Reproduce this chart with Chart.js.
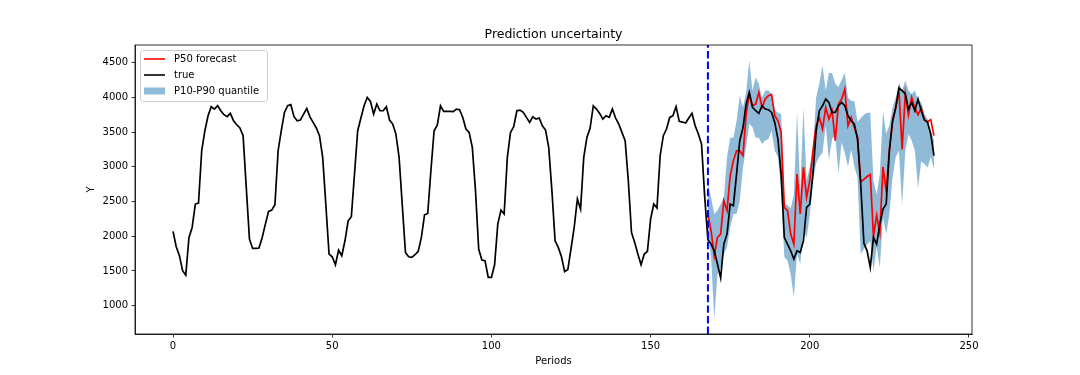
<!DOCTYPE html>
<html>
<head>
<meta charset="utf-8">
<script src="https://cdn.jsdelivr.net/npm/chart.js@4/dist/chart.umd.min.js"></script>
<style>
  body { margin: 0; background: #fff; }
  #wrap { width: 1080px; height: 375px; }
</style>
</head>
<body>
<div id="wrap"><canvas id="chart"></canvas></div>
<script>
// observed series, period 0..239
const trueValues = [
  2070, 1850, 1720, 1503, 1440, 1983, 2127, 2464, 2478, 3232,
  3520, 3736, 3866, 3832, 3880, 3808, 3751, 3722, 3770, 3664,
  3607, 3559, 3448, 2704, 1959, 1825, 1825, 1830, 1983, 2175,
  2358, 2377, 2454, 3232, 3520, 3784, 3880, 3895, 3722, 3664,
  3674, 3760, 3840, 3720, 3640, 3560, 3448, 3136, 2450, 1743,
  1705, 1589, 1801, 1719, 1935, 2223, 2281, 2900, 3520, 3703,
  3880, 4000, 3943, 3760, 3904, 3808, 3808, 3866, 3674, 3616,
  3472, 3136, 2450, 1767, 1705, 1695, 1734, 1782, 1983, 2310,
  2329, 2950, 3520, 3600, 3880, 3799, 3800, 3800, 3794, 3832,
  3823, 3712, 3544, 3496, 3280, 2656, 1815, 1657, 1647, 1407,
  1407, 1589, 2175, 2377, 2320, 3136, 3496, 3578, 3808, 3818,
  3784, 3712, 3640, 3722, 3688, 3703, 3592, 3530, 3280, 2656,
  1935, 1839, 1705, 1490, 1520, 1820, 2127, 2535, 2391, 3136,
  3424, 3559, 3880, 3832, 3770, 3688, 3736, 3712, 3832, 3703,
  3616, 3496, 3376, 2800, 2055, 1911, 1743, 1589, 1743, 1782,
  2247, 2464, 2406, 3160, 3448, 3544, 3712, 3736, 3866, 3655,
  3645, 3631, 3703, 3770, 3592, 3472, 3328, 2560, 1950, 1887,
  1791, 1600, 1400, 1887, 2031, 2464, 2440, 2896, 3376, 3559,
  3904, 4073, 3856, 3808, 3770, 3880, 3832, 3823, 3784, 3640,
  3400, 2896, 1983, 1887, 1791, 1671, 1791, 1767, 1935, 2416,
  2464, 2896, 3520, 3808, 3880, 3976, 3928, 3784, 3784, 3880,
  3928, 3880, 3736, 3664, 3616, 3400, 2750, 1900, 1790, 1551,
  1983, 1887, 2175, 2391, 2464, 3232, 3664, 3856, 4135, 4097,
  4049, 3832, 3928, 3808, 3976, 3808, 3674, 3640, 3472, 3160
];

// forecast, periods 168..239
const forecastStart = 168;
const p50Values = [
  2320, 2079, 1719, 1983, 2031, 2512, 2368, 2872, 3088, 3232,
  3232, 3160, 3760, 4049, 3880, 3904, 4073, 3856, 3976, 4025,
  4039, 3736, 3664, 3500, 2416, 2368, 2031, 1887, 2896, 2320,
  2992, 2560, 2800, 3232, 3592, 3712, 3544, 3856, 3688, 3808,
  3376, 3904, 3976, 4120, 3592, 3712, 3568, 3424, 2780, 2820,
  2860, 2890, 2000, 2300, 2050, 3000, 2650, 3250, 3650, 3850,
  4100, 3250, 4050, 3750, 4000, 3850, 3750, 3850, 3680, 3650,
  3680, 3450
];
const p10Values = [
  2030, 1700, 810, 1450, 1550, 1740, 1840, 2130, 2320, 2320,
  2510, 2990, 3280, 3620, 3570, 3420, 3420, 3330, 3380, 3400,
  3520, 3230, 3140, 2660, 1700, 1650, 1450, 1120, 1750, 1600,
  2100, 1980, 2300, 2800, 3050, 3150, 3200, 3600, 3100, 3400,
  3450, 2900, 3350, 3200, 3000, 3250, 3000, 2850, 1740, 1820,
  1880, 1930, 1500, 1850, 1550, 2270, 2030, 2320, 2850, 3140,
  3230, 2450, 3230, 3470, 3380, 3230, 2700, 3080, 3040, 2990,
  3140, 2970
];
const p90Values = [
  2750, 2560, 2320, 2370, 2460, 2560, 3140, 3420, 3420, 3660,
  4025, 3860, 4070, 4530, 4100, 4290, 4190, 4000, 4100, 4100,
  4050, 3810, 3780, 3760, 2460, 2450, 2400, 2600, 3790, 2650,
  3850, 2800, 3000, 3250, 4000, 4200, 4460, 4100, 4350, 4350,
  4200, 4150, 4250, 4350, 4000, 3950, 3950, 3650, 3700, 3750,
  3780, 3780, 2800, 2600, 2900, 3800, 3480, 3600, 3850, 4000,
  4200, 4100, 4240, 4100, 4050, 4100, 3950, 3930, 3760, 3690,
  3520, 3380
];

const xTicks = [0, 50, 100, 150, 200, 250];
const yTicks = [1000, 1500, 2000, 2500, 3000, 3500, 4000, 4500];

const truePoints = trueValues.map((v, i) => ({ x: i, y: v }));
const fcPoints = arr => arr.map((v, k) => ({ x: forecastStart + k, y: v }));

const bandColor = 'rgba(31, 119, 180, 0.5)';

Chart.defaults.font.family = 'DejaVu Sans';
Chart.defaults.font.size = 10;
Chart.defaults.color = '#000';

// top/right spines like matplotlib
const frame = {
  id: 'frame',
  afterDraw(chart) {
    const { ctx, chartArea: a } = chart;
    ctx.save();
    ctx.strokeStyle = '#000';
    ctx.lineWidth = 0.8;
    ctx.strokeRect(a.left, a.top, a.right - a.left, a.bottom - a.top);
    ctx.restore();
  }
};

// forecast start marker
const startLine = {
  id: 'startLine',
  afterDatasetsDraw(chart) {
    const { ctx, chartArea: a, scales } = chart;
    const x = scales.x.getPixelForValue(forecastStart);
    ctx.save();
    ctx.strokeStyle = '#0000ff';
    ctx.lineWidth = 2;
    ctx.setLineDash([7.4, 3.2]);
    ctx.beginPath();
    ctx.moveTo(x, a.bottom);
    ctx.lineTo(x, a.top);
    ctx.stroke();
    ctx.restore();
  }
};

// legend box in the upper left corner of the axes
const legendBox = {
  id: 'legendBox',
  afterDraw(chart) {
    const { ctx, chartArea: a } = chart;
    const x = a.left + 5, y = a.top + 5, w = 127, h = 51;
    ctx.save();
    ctx.beginPath();
    ctx.roundRect(x + 0.5, y + 0.5, w, h, 3);
    ctx.fillStyle = 'rgba(255,255,255,0.8)';
    ctx.fill();
    ctx.strokeStyle = '#cccccc';
    ctx.lineWidth = 1;
    ctx.stroke();

    const items = [
      { label: 'P50 forecast', kind: 'line', color: 'red' },
      { label: 'true', kind: 'line', color: 'black' },
      { label: 'P10-P90 quantile', kind: 'patch', color: bandColor }
    ];
    ctx.font = '10px "DejaVu Sans"';
    ctx.textBaseline = 'middle';
    items.forEach((it, i) => {
      const ry = y + 9 + i * 16;
      if (it.kind === 'line') {
        ctx.strokeStyle = it.color;
        ctx.lineWidth = 1.6;
        ctx.beginPath();
        ctx.moveTo(x + 4, ry);
        ctx.lineTo(x + 25, ry);
        ctx.stroke();
      } else {
        ctx.fillStyle = it.color;
        ctx.fillRect(x + 4, ry - 3.5, 21, 7);
      }
      ctx.fillStyle = '#000';
      ctx.fillText(it.label, x + 34, ry);
    });
    ctx.restore();
  }
};

new Chart(document.getElementById('chart'), {
  type: 'line',
  data: {
    datasets: [
      {
        label: 'P50 forecast',
        data: fcPoints(p50Values),
        borderColor: 'red',
        borderWidth: 1.7,
        pointRadius: 0,
        fill: false,
        order: 1
      },
      {
        label: 'true',
        data: truePoints,
        borderColor: 'black',
        borderWidth: 1.7,
        pointRadius: 0,
        fill: false,
        order: 0
      },
      {
        label: 'P10-P90 quantile',
        data: fcPoints(p90Values),
        borderWidth: 0,
        borderColor: 'rgba(0,0,0,0)',
        backgroundColor: bandColor,
        pointRadius: 0,
        fill: '+1',
        order: 2
      },
      {
        label: 'P10',
        data: fcPoints(p10Values),
        borderWidth: 0,
        borderColor: 'rgba(0,0,0,0)',
        pointRadius: 0,
        fill: false,
        order: 3
      }
    ]
  },
  options: {
    responsive: true,
    maintainAspectRatio: false,
    animation: false,
    layout: { padding: { top: 0, right: 108, bottom: 0, left: 0 } },
    plugins: {
      legend: { display: false },
      tooltip: { enabled: false },
      title: {
        display: true,
        text: 'Prediction uncertainty',
        fullSize: false,
        font: { size: 12.5, weight: 'normal' },
        padding: { top: 27.5, bottom: 2.5 }
      }
    },
    scales: {
      x: {
        type: 'linear',
        min: -11.95,
        max: 250.95,
        afterBuildTicks: axis => { axis.ticks = xTicks.map(v => ({ value: v })); },
        afterFit: axis => { axis.height = 41; },
        ticks: { padding: 3, maxRotation: 0, callback: v => String(v) },
        grid: { display: true, drawOnChartArea: false, drawTicks: true, tickLength: 3.5, color: '#000', lineWidth: 0.8 },
        border: { display: true, color: '#000', width: 0.8 },
        title: { display: true, text: 'Periods', padding: { top: 0, bottom: 8 } }
      },
      y: {
        type: 'linear',
        min: 592,
        max: 4755,
        afterBuildTicks: axis => { axis.ticks = yTicks.map(v => ({ value: v })); },
        afterFit: axis => { axis.width = 135; },
        ticks: { padding: 3.5, callback: v => String(v) },
        grid: { display: true, drawOnChartArea: false, drawTicks: true, tickLength: 3.5, color: '#000', lineWidth: 0.8 },
        border: { display: true, color: '#000', width: 0.8 },
        title: { display: true, text: 'Y', padding: { top: 85, bottom: 0 } }
      }
    }
  },
  plugins: [startLine, frame, legendBox]
});
</script>
</body>
</html>
